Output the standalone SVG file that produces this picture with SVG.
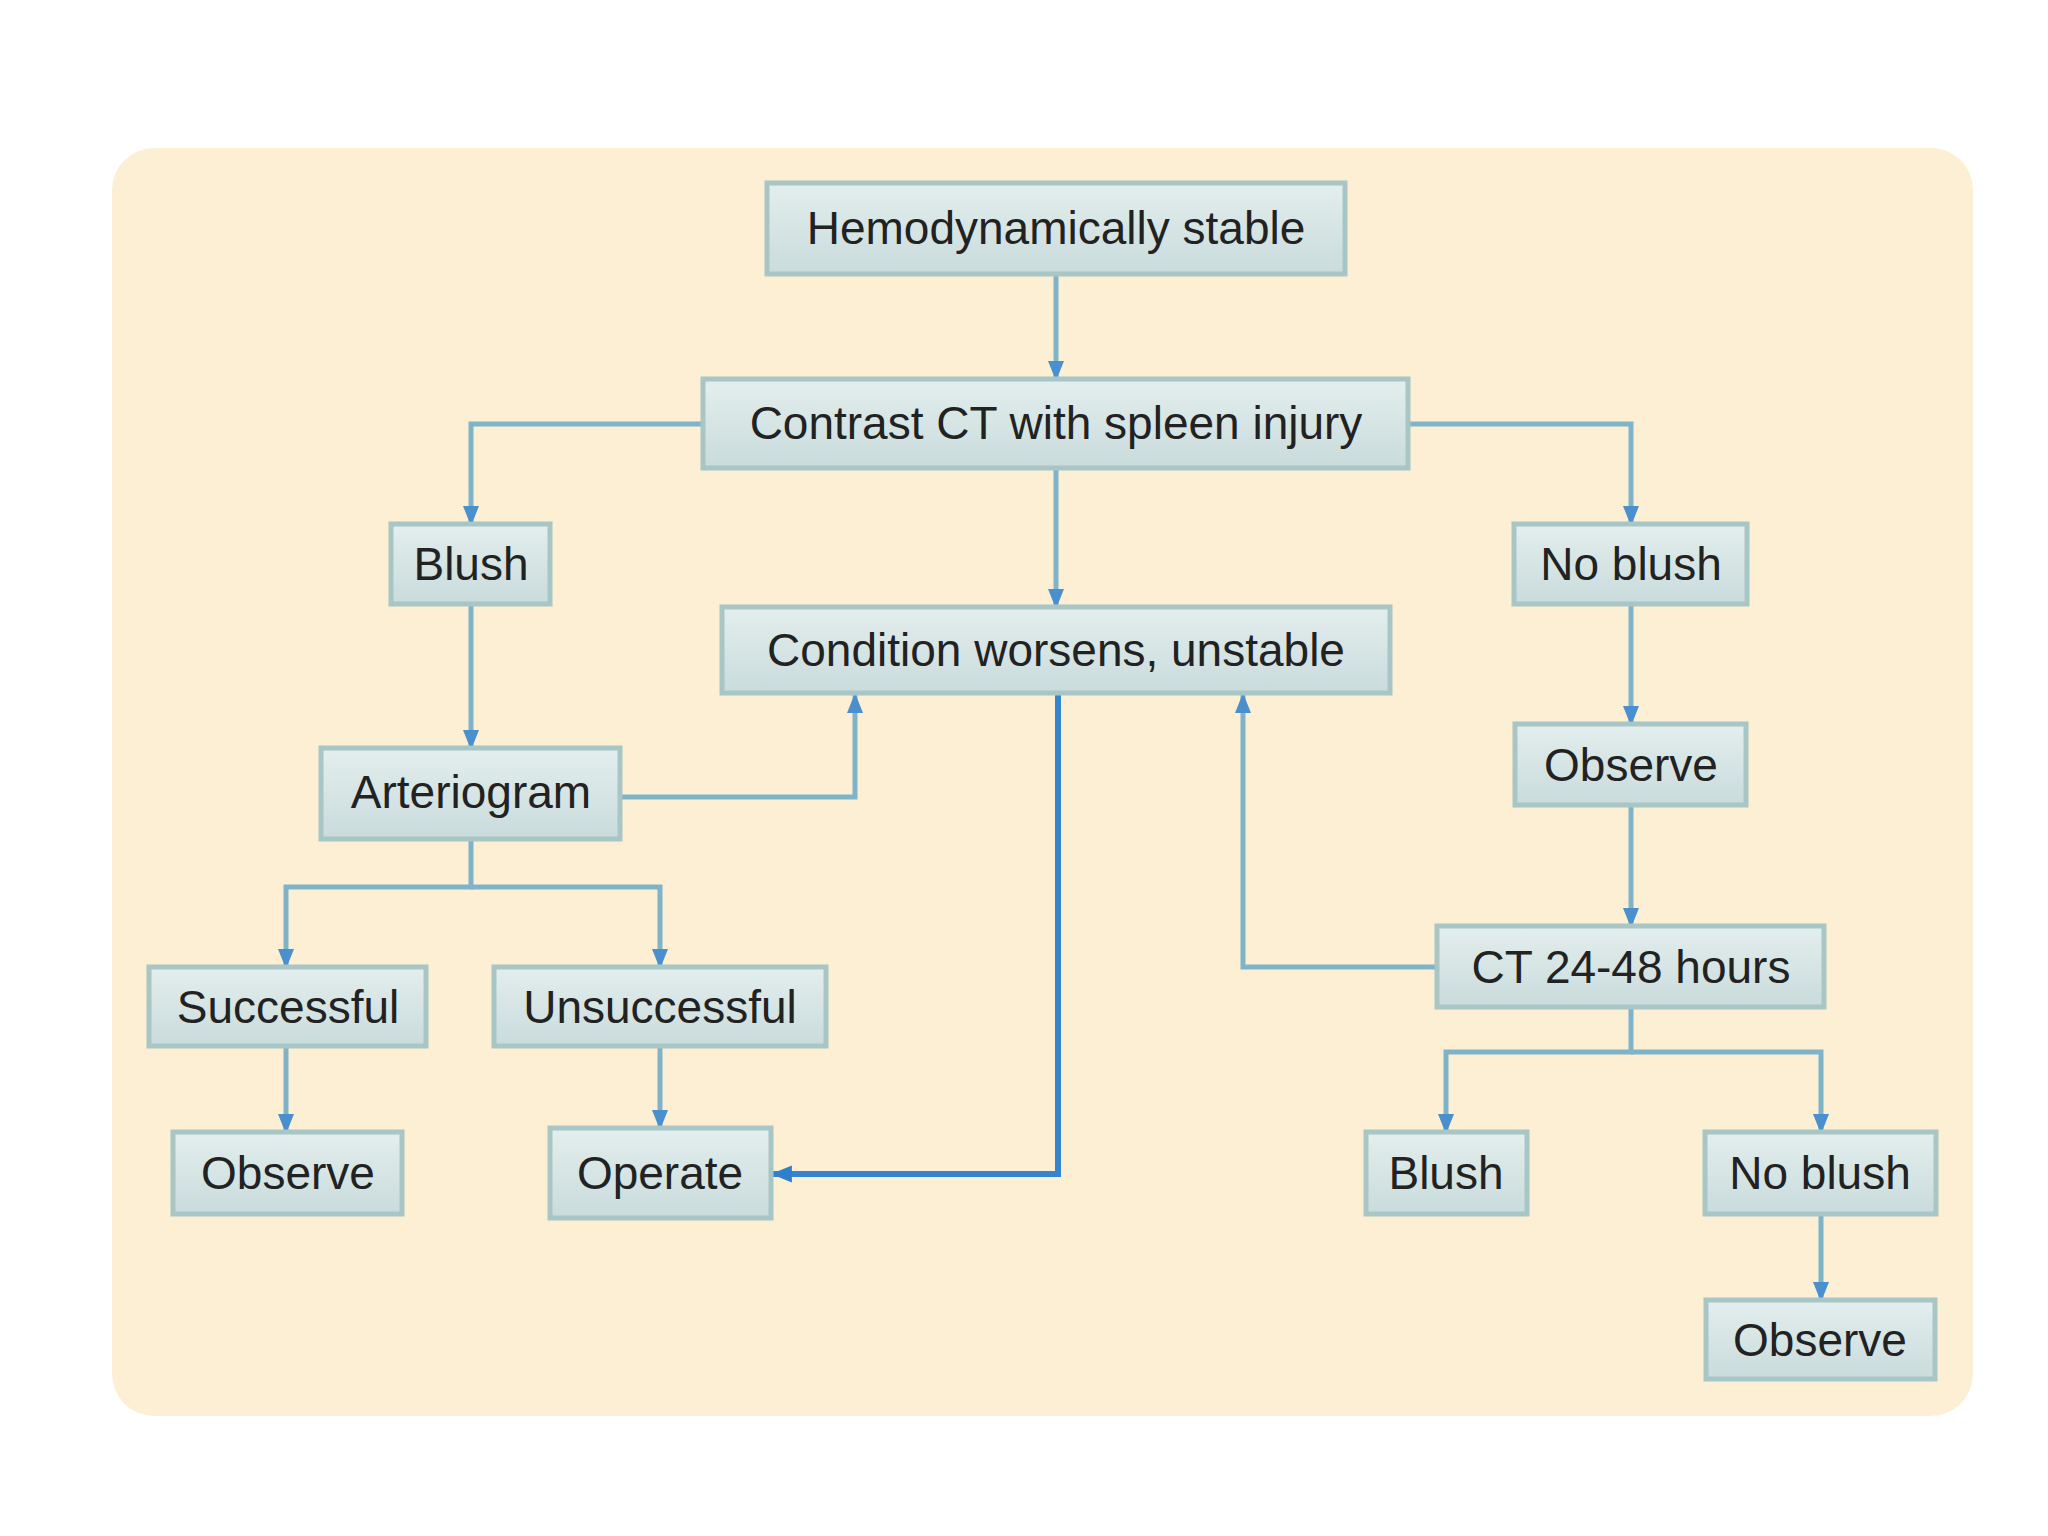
<svg xmlns="http://www.w3.org/2000/svg" width="2048" height="1536" viewBox="0 0 2048 1536">
<defs>
<linearGradient id="g" x1="0" y1="0" x2="0" y2="1"><stop offset="0" stop-color="#e4eeee"/><stop offset="1" stop-color="#c9dbdb"/></linearGradient>
<marker id="a" viewBox="0 0 10 10" refX="9" refY="5" markerWidth="4" markerHeight="5" orient="auto" markerUnits="strokeWidth"><path d="M0,1 L10,5 L0,9 z" fill="#4a90cf"/></marker>
<marker id="b" viewBox="0 0 10 10" refX="9" refY="5" markerWidth="3.5" markerHeight="4" orient="auto" markerUnits="strokeWidth"><path d="M0,1 L10,5 L0,9 z" fill="#2f7fcc"/></marker>
</defs>
<style>
.n rect{fill:url(#g);stroke:#a8c6c6;stroke-width:5}
.n text{font-family:"Liberation Sans",Arial,sans-serif;font-size:46px;fill:#222;text-anchor:middle;dominant-baseline:central}
.c path{fill:none;stroke:#7fb3c9;stroke-width:5;marker-end:url(#a)}
</style>
<rect width="2048" height="1536" fill="#fff"/>
<rect x="112" y="148" width="1861" height="1268" rx="42" fill="#fdefd3"/>
<g class="c">
<path d="M1056,274 V379"/>
<path d="M703,424 H471 V524"/>
<path d="M1408,424 H1631 V524"/>
<path d="M1056,468 V607"/>
<path d="M471,604 V748"/>
<path d="M620,797 H855 V695"/>
<path d="M471,839 V887 H286 V967"/>
<path d="M471,887 H660 V967"/>
<path d="M286,1046 V1132"/>
<path d="M660,1046 V1128"/>
<path d="M1631,604 V724"/>
<path d="M1631,805 V926"/>
<path d="M1437,967 H1243 V695"/>
<path d="M1631,1007 V1052 H1446 V1132"/>
<path d="M1631,1052 H1821 V1132"/>
<path d="M1821,1214 V1300"/>
<path d="M1058,693 V1174 H773" style="stroke:#3584cf;stroke-width:6;marker-end:url(#b)"/>
</g>
<g id="n1" class="n"><rect x="767" y="183" width="578" height="91"/><text x="1056" y="228">Hemodynamically stable</text></g>
<g id="n2" class="n"><rect x="703" y="379" width="705" height="89"/><text x="1056" y="423">Contrast CT with spleen injury</text></g>
<g id="n3" class="n"><rect x="391" y="524" width="159" height="80"/><text x="471" y="564">Blush</text></g>
<g id="n4" class="n"><rect x="1514" y="524" width="233" height="80"/><text x="1631" y="564">No blush</text></g>
<g id="n5" class="n"><rect x="722" y="607" width="668" height="86"/><text x="1056" y="650">Condition worsens, unstable</text></g>
<g id="n6" class="n"><rect x="321" y="748" width="299" height="91"/><text x="471" y="792">Arteriogram</text></g>
<g id="n7" class="n"><rect x="1515" y="724" width="231" height="81"/><text x="1631" y="765">Observe</text></g>
<g id="n8" class="n"><rect x="1437" y="926" width="387" height="81"/><text x="1631" y="967">CT 24-48 hours</text></g>
<g id="n9" class="n"><rect x="149" y="967" width="277" height="79"/><text x="288" y="1007">Successful</text></g>
<g id="n10" class="n"><rect x="494" y="967" width="332" height="79"/><text x="660" y="1007">Unsuccessful</text></g>
<g id="n11" class="n"><rect x="173" y="1132" width="229" height="82"/><text x="288" y="1173">Observe</text></g>
<g id="n12" class="n"><rect x="550" y="1128" width="221" height="90"/><text x="660" y="1173">Operate</text></g>
<g id="n13" class="n"><rect x="1366" y="1132" width="161" height="82"/><text x="1446" y="1173">Blush</text></g>
<g id="n14" class="n"><rect x="1705" y="1132" width="231" height="82"/><text x="1820" y="1173">No blush</text></g>
<g id="n15" class="n"><rect x="1706" y="1300" width="229" height="79"/><text x="1820" y="1340">Observe</text></g>
</svg>
